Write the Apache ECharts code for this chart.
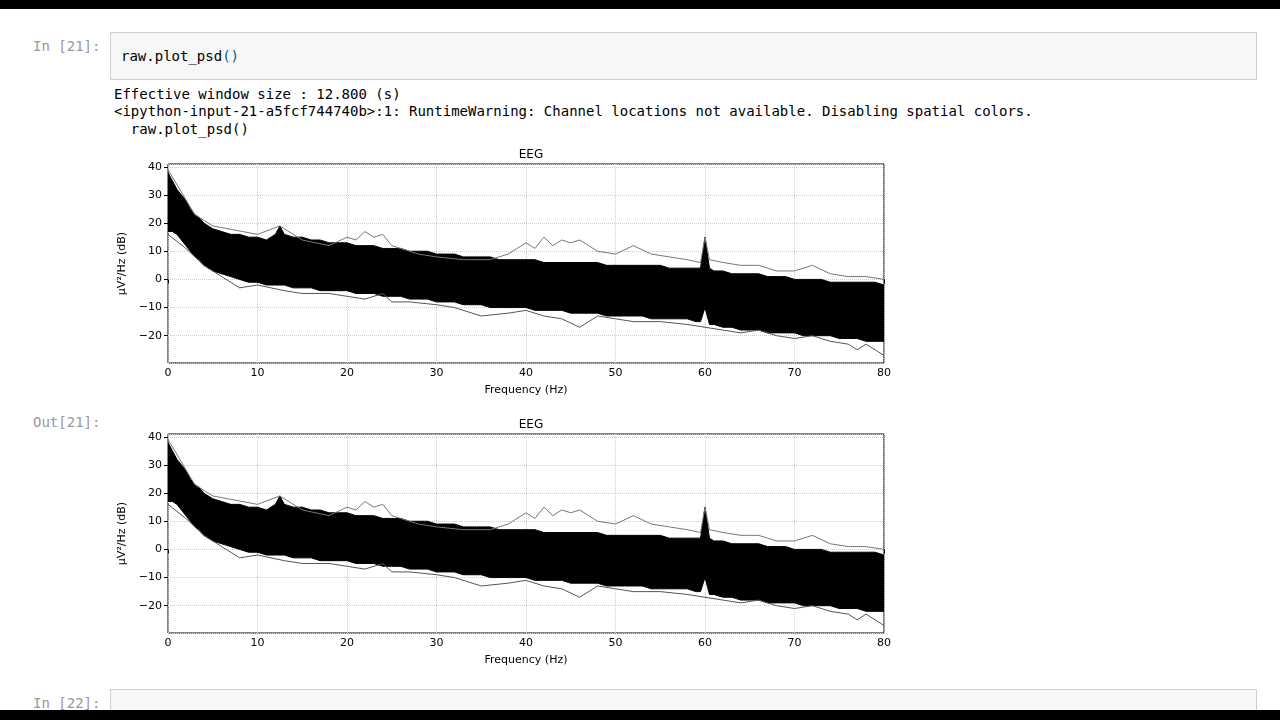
<!DOCTYPE html>
<html><head><meta charset="utf-8">
<script src="https://cdn.jsdelivr.net/npm/echarts@6/dist/echarts.min.js"></script>
<style>
body{margin:0;width:1280px;height:720px;background:#fff;position:relative;overflow:hidden;font-family:"DejaVu Sans Mono",monospace;}
.bar{position:absolute;left:0;width:1280px;background:#000;}
.prompt{position:absolute;color:#999;font-size:14px;}
.inbox{position:absolute;left:110px;top:32px;width:1145px;height:46px;background:#f7f7f7;border:1px solid #cfcfcf;}
.code{position:absolute;left:10px;top:15px;font-size:14px;color:#000;}
.out{position:absolute;left:114px;font-size:14px;color:#000;white-space:pre;}
#c{position:absolute;left:0;top:0;width:1280px;height:720px;}
</style></head><body>
<div class="bar" style="top:0;height:9px"></div>
<div class="prompt" style="left:33px;top:38px">In [21]:</div>
<div class="inbox"><div class="code">raw.plot_psd<span style="color:#0055aa">()</span></div></div>
<div class="out" style="top:86px">Effective window size : 12.800 (s)</div>
<div class="out" style="top:103px">&lt;ipython-input-21-a5fcf744740b&gt;:1: RuntimeWarning: Channel locations not available. Disabling spatial colors.</div>
<div class="out" style="top:121px">  raw.plot_psd()</div>
<div class="prompt" style="left:33px;top:414px">Out[21]:</div>
<div class="inbox" style="top:689px;height:40px"></div>
<div class="prompt" style="left:33px;top:695px">In [22]:</div>
<div id="c"></div>
<div class="bar" style="top:710px;height:10px"></div>
<script>
const freqs=[0,0.5,1,1.5,2,2.5,3,3.5,4,5,6,7,8,9,10,11,12,12.5,13,14,15,16,17,18,19,20,21,22,23,24,25,26,27,28,29,30,31,32,33,34,35,36,37,38,39,40,41,42,43,44,45,46,47,48,49,50,51,52,53,54,55,56,57,58,59,59.5,60,60.5,61,62,63,64,65,66,67,68,69,70,71,72,73,74,75,76,77,78,79,80];
const upper=[38,35,32,30,28,25,23,22,20, 18,17,16,16,15,15,14,16, 19,
16,15,15,14,14,13,13,13,12,12,12,11,11,11,10,10,10,9,9,9,8,8,8,8,7,7,7,7,7,6,6,6,6,6,6,6,5,5,5,5,5,5,5,4,4,4,4,
4,15,4, 3,3,2,2,2,2,1,1,1,0,0,0,0,-1,-1,-1,-1,-1,-1,-2];
const lower=[17,17,16,14,12,10,8,7,5, 3,2,1,0,-1,-1,-2,-2, -2,
-2,-3,-3,-3,-4,-4,-4,-4,-5,-5,-5,-6,-6,-6,-7,-7,-7,-8,-8,-8,-9,-9,-9,-10,-10,-10,-10,-10,-11,-11,-11,-11,-12,-12,-12,-12,-13,-13,-13,-13,-13,-14,-14,-14,-14,-14,-15,
-15,-10,-16, -16,-17,-17,-18,-18,-18,-19,-19,-19,-19,-20,-20,-20,-20,-21,-21,-21,-22,-22,-22];
const greyHiF=[0,3,5,10,12.5,15,18,20,21,22,23,24,25,26,28,30,33,36,38,40,41,42,43,44,45,46,47,48,50,52,54,56,58,59.5,60,60.5,62,64,66,68,70,72,74,76,78,80];
const greyHiV=[39,23,19,16,19,14,12,15,14,17,15,16,12,11,9,8,7,7,9,13,11,15,12,14,13,14,12,10,9,12,9,8,7,6,15,7,6,5,5,3,3,5,2,1,1,0];
const greyLoF=[0,2,4,6,8,10,13,15,18,20,22,24,25,27,30,32,35,38,40,42,44,46,48,50,52,55,58,60,62,64,66,68,70,72,74,76,77,78,80];
const greyLoV=[16,11,5,1,-3,-2,-4,-5,-5,-6,-7,-5,-8,-8,-9,-10,-13,-12,-11,-13,-14,-17,-13,-14,-15,-15,-16,-17,-18,-19,-18,-20,-21,-20,-22,-23,-25,-23,-27];

const tops=[164,434];
const grids=[],xA=[],yA=[],series=[],titles=[];
const ax={fontFamily:'DejaVu Sans',fontSize:11,color:'#000'};
const bandData=freqs.map((f,k)=>[f,upper[k],lower[k]]);
tops.forEach((t,i)=>{
  grids.push({left:168,top:t,width:716,height:199,show:true,borderColor:'#000',borderWidth:1,backgroundColor:'transparent'});
  xA.push({type:'value',gridIndex:i,min:0,max:80,interval:10,name:'Frequency (Hz)',nameLocation:'middle',nameGap:22,nameTextStyle:ax,
    axisLine:{show:false},axisTick:{show:true,length:4,lineStyle:{color:'#000'}},axisLabel:Object.assign({margin:5},ax),
    splitLine:{show:true,lineStyle:{color:'#ccc',type:'dotted'}}});
  yA.push({type:'value',gridIndex:i,min:-29.7,max:41,splitNumber:7,name:'µV²/Hz (dB)',nameLocation:'middle',nameGap:32,nameTextStyle:ax,
    axisLine:{show:false},axisTick:{show:true,length:4,lineStyle:{color:'#000'}},
    axisLabel:Object.assign({margin:6,showMinLabel:false,showMaxLabel:false,formatter:v=>String(v).replace('-','−')},ax),
    splitLine:{show:true,lineStyle:{color:'#ccc',type:'dotted'}}});
  titles.push({text:'EEG',left:526,top:t-20,textAlign:'center',textStyle:{fontFamily:'DejaVu Sans',fontSize:12,fontWeight:'normal',color:'#000'}});
  series.push({type:'custom',xAxisIndex:i,yAxisIndex:i,data:[0],clip:true,
    renderItem:(params,api)=>{
      const pts=bandData.map(d=>api.coord([d[0],d[1]])).concat(bandData.slice().reverse().map(d=>api.coord([d[0],d[2]])));
      return {type:'polygon',shape:{points:pts},style:{fill:'#000',stroke:'#000',lineWidth:1}};
    }});
  series.push({type:'line',xAxisIndex:i,yAxisIndex:i,symbol:'none',lineStyle:{width:1,color:'#777'},data:greyHiF.map((f,k)=>[f,greyHiV[k]])});
  series.push({type:'line',xAxisIndex:i,yAxisIndex:i,symbol:'none',lineStyle:{width:1,color:'#555'},data:greyLoF.map((f,k)=>[f,greyLoV[k]])});
});
const ch=echarts.init(document.getElementById('c'));
ch.setOption({animation:false,title:titles,grid:grids,xAxis:xA,yAxis:yA,series:series});
</script></body></html>
